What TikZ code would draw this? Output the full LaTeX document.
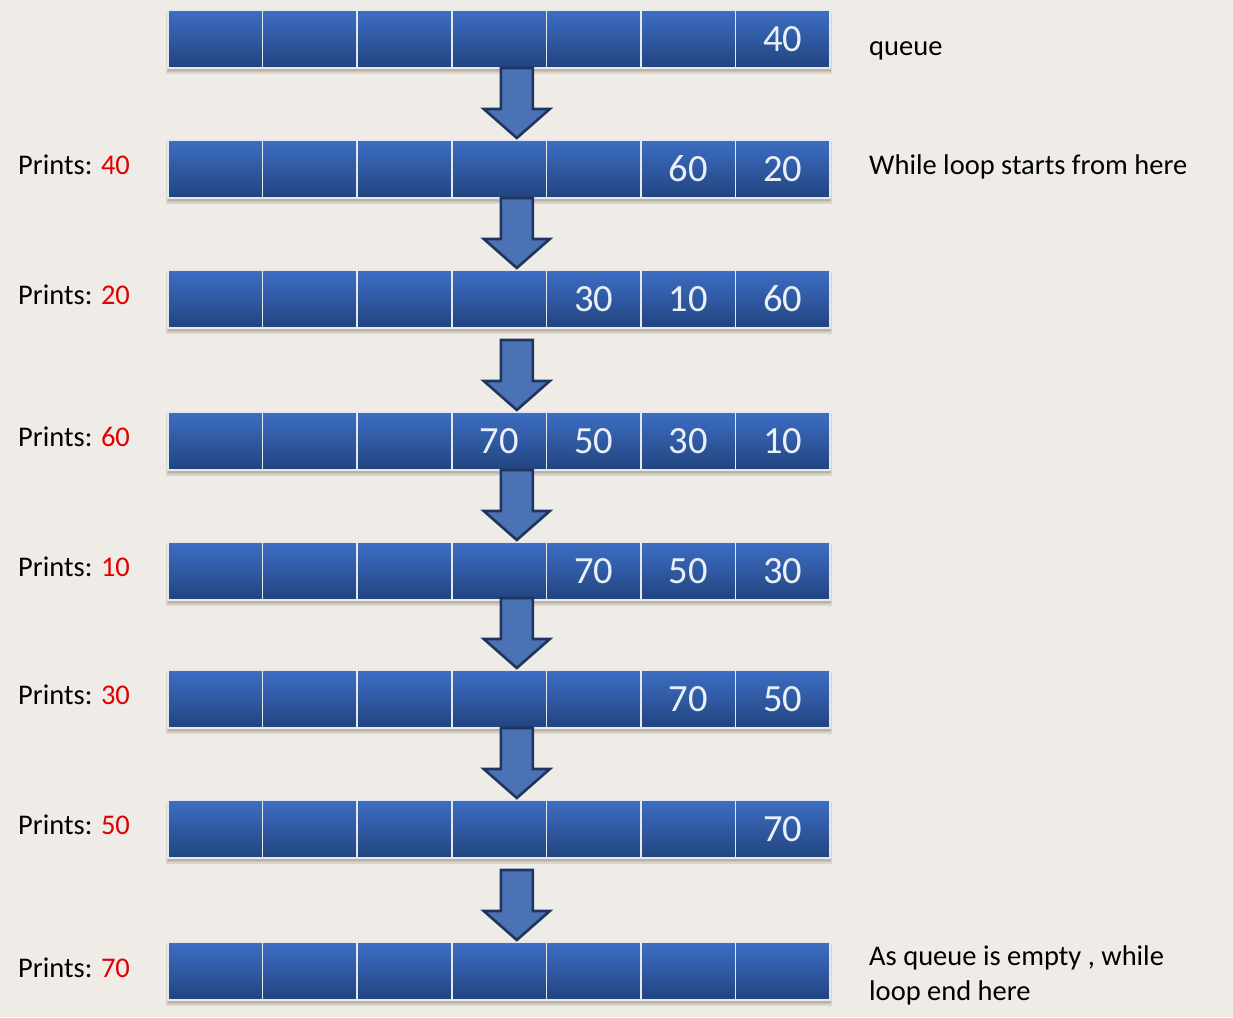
\documentclass[tikz,border=0pt]{standalone}
\usepackage{fontspec}
\setmainfont{Carlito}
\usetikzlibrary{calc}
\definecolor{bg}{HTML}{EFECE8}
\definecolor{celltop}{HTML}{3D6EC4}
\definecolor{cellbot}{HTML}{21447F}
\definecolor{cellline}{HTML}{E4E9EE}
\definecolor{arrowfill}{HTML}{4A72B4}
\definecolor{arrowline}{HTML}{1F3560}
\definecolor{printred}{HTML}{E00000}
\definecolor{celltext}{HTML}{EAF0FA}
\definecolor{shadowc}{HTML}{7A5E48}
\newcommand{\qrow}[9]{%
  \fill[rowshadow] (165.5,#2-27) rectangle (831.5,#2+34.5);
  \fill[rowshadow] (166.5,#2-28) rectangle (831,#2+33);
  \fill[rowshadow] (167.5,#2-28) rectangle (830.5,#2+31.5);
  \node[cell] (r#1c1) at (215.3,#2) {#3};
  \node[cell] (r#1c2) at (309.9,#2) {#4};
  \node[cell] (r#1c3) at (404.5,#2) {#5};
  \node[cell] (r#1c4) at (499.1,#2) {#6};
  \node[cell] (r#1c5) at (593.7,#2) {#7};
  \node[cell] (r#1c6) at (688.3,#2) {#8};
  \node[cell] (r#1c7) at (782.9,#2) {#9};
}
\newcommand{\qarrow}[1]{%
  \draw[blockarrow] ($(r#1c4.north west)+(65,-2)$) coordinate (tip#1)
    -- ++(33,-29) -- ++(-17,0) -- ++(0,-41) -- ++(-32,0) -- ++(0,41) -- ++(-17,0) -- cycle;
}
\begin{document}
\begin{tikzpicture}[x=1pt,y=-1pt,
  cell/.style={draw=cellline, line width=1.6pt, top color=celltop, bottom color=cellbot,
    minimum width=94.6pt, minimum height=58pt, inner sep=0pt, outer sep=0pt,
    text=celltext, font=\fontsize{38.5}{40}\selectfont},
  rowshadow/.style={fill=shadowc, opacity=0.16},
  blockarrow/.style={fill=arrowfill, draw=arrowline, line width=2.6pt, line join=miter},
  lbl/.style={anchor=base west, inner sep=0pt, font=\fontsize{28.5}{30}\selectfont, text=black},
  note/.style={anchor=base west, inner sep=0pt, font=\fontsize{28.5}{35}\selectfont, text=black, align=left}]
\useasboundingbox (0,0) rectangle (1233,1017);
\fill[bg] (0,0) rectangle (1233,1017);

\qrow{1}{39}{}{}{}{}{}{}{40}
\qrow{2}{169}{}{}{}{}{}{60}{20}
\qrow{3}{299}{}{}{}{}{30}{10}{60}
\qrow{4}{441}{}{}{}{70}{50}{30}{10}
\qrow{5}{571}{}{}{}{}{70}{50}{30}
\qrow{6}{699}{}{}{}{}{}{70}{50}
\qrow{7}{829}{}{}{}{}{}{}{70}
\qrow{8}{971}{}{}{}{}{}{}{}

\qarrow{2}
\qarrow{3}
\qarrow{4}
\qarrow{5}
\qarrow{6}
\qarrow{7}
\qarrow{8}

\node[lbl] (p2) at (18,174) {Prints: \textcolor{printred}{40}};
\node[lbl] (p3) at (18,304) {Prints: \textcolor{printred}{20}};
\node[lbl] (p4) at (18,446) {Prints: \textcolor{printred}{60}};
\node[lbl] (p5) at (18,576) {Prints: \textcolor{printred}{10}};
\node[lbl] (p6) at (18,704) {Prints: \textcolor{printred}{30}};
\node[lbl] (p7) at (18,834) {Prints: \textcolor{printred}{50}};
\node[lbl] (p8) at (18,977) {Prints: \textcolor{printred}{70}};

\node[note] (n1) at (869,55) {queue};
\node[note] (n2) at (869,174) {While loop starts from here};
\node[note] (n3) at (869,965) {As queue is empty , while};
\node[note] (n4) at (869,1000) {loop end here};
\end{tikzpicture}
\end{document}
